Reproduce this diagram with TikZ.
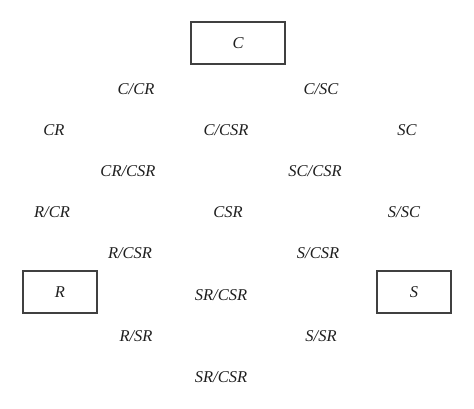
\documentclass[tikz,border=0pt]{standalone}
\usepackage{fontspec}
\setmainfont{Liberation Serif}
\usepackage{tikz}
\usetikzlibrary{positioning}

\begin{document}
\begin{tikzpicture}[
    x=1pt, y=-1pt,
    every node/.style={font=\fontsize{16.5}{19}\selectfont\itshape, text=black!88, inner sep=0pt},
    sitebox/.style={rectangle, draw=black!75, line width=1.1pt, minimum width=74pt, minimum height=42pt, align=center},
    label/.style={align=center}
]
    \useasboundingbox (0,0) rectangle (474,409);

    % boxed sites
    \node[sitebox, minimum width=94pt] (c) at (238,43) {C};
    \node[sitebox] (r) at (60,292) {R};
    \node[sitebox] (s) at (414,292) {S};

    % interfaces
    \node[label] (c_cr) at (136,89) {C/CR};
    \node[label] (c_sc) at (321,89) {C/SC};
    \node[label] (cr) at (54,130) {CR};
    \node[label] (c_csr) at (226,130) {C/CSR};
    \node[label] (sc) at (407,130) {SC};
    \node[label] (cr_csr) at (128,171) {CR/CSR};
    \node[label] (sc_csr) at (315,171) {SC/CSR};
    \node[label] (r_cr) at (52,212) {R/CR};
    \node[label] (csr) at (228,212) {CSR};
    \node[label] (s_sc) at (404,212) {S/SC};
    \node[label] (r_csr) at (130,253) {R/CSR};
    \node[label] (s_csr) at (318,253) {S/CSR};
    \node[label] (sr_csr) at (221,295) {SR/CSR};
    \node[label] (r_sr) at (136,336) {R/SR};
    \node[label] (s_sr) at (321,336) {S/SR};
    \node[label] (sr_csr2) at (221,377) {SR/CSR};
\end{tikzpicture}
\end{document}
